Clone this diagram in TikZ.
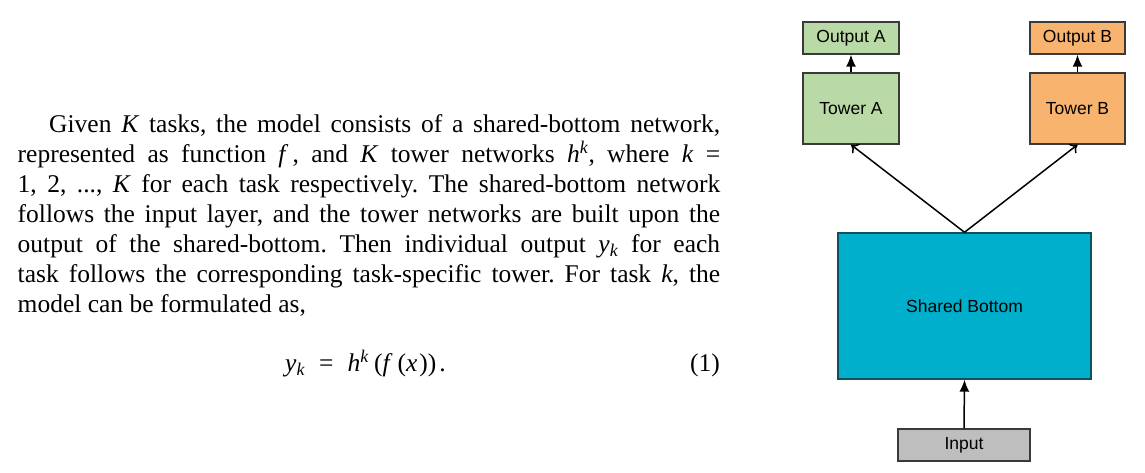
\documentclass[tikz,border=0pt]{standalone}
\usepackage{fontspec}
\setmainfont{Liberation Serif}
\newfontfamily\diagfont{Liberation Sans}
\usetikzlibrary{arrows.meta}
\definecolor{towerA}{HTML}{B9D9A6}
\definecolor{towerB}{HTML}{F8B36E}
\definecolor{shared}{HTML}{00AFCB}
\definecolor{inputc}{HTML}{BEBEBE}
\definecolor{boxline}{HTML}{3A3A3A}
\definecolor{sharedline}{HTML}{10505E}
\newcommand{\vi}[1]{\textit{#1}}
\begin{document}
\frenchspacing
\begin{tikzpicture}[x=1pt,y=-1pt,
  box/.style={draw=boxline,line width=1.4pt,inner sep=0pt,font=\diagfont\fontsize{17.5}{20}\selectfont},
  txt/.style={anchor=base west,inner sep=0pt,font=\fontsize{25.5}{30}\selectfont},
  solidarrow/.style={-{Latex[length=12pt,width=10pt]},line width=1.5pt},
  openarrow/.style={-{To[length=7pt,width=12pt]},line width=1.5pt}]
\useasboundingbox (0,0) rectangle (1145,472);
% text
\node[txt] (l1) at (49,132.5) {\makebox[671pt][s]{Given \vi{K} tasks, the model consists of a shared-bottom network,}};
\node[txt] (l2) at (17.5,162.5) {\makebox[702.5pt][s]{represented as function \vi{f}\,, and \vi{K} tower networks \vi{h}\textsuperscript{\vi{k}}, where \vi{k} =}};
\node[txt] (l3) at (17.5,192.5) {\makebox[702.5pt][s]{1, 2, ..., \vi{K} for each task respectively. The shared-bottom network}};
\node[txt] (l4) at (17.5,222.5) {\makebox[702.5pt][s]{follows the input layer, and the tower networks are built upon the}};
\node[txt] (l5) at (17.5,252.5) {\makebox[702.5pt][s]{output of the shared-bottom. Then individual output \vi{y}\textsubscript{\vi{k}} for each}};
\node[txt] (l6) at (17.5,282.5) {\makebox[702.5pt][s]{task follows the corresponding task-specific tower. For task \vi{k}, the}};
\node[txt] (l7) at (17.5,312.5) {model can be formulated as,};
\node[txt] (eq) at (285,371.7) {\vi{y}\textsubscript{\vi{k}}\hspace{14pt}=\hspace{14pt}\vi{h}\textsuperscript{\vi{k}}\hspace{5pt}(\vi{f}\hspace{5pt}(\vi{x}\hspace{2pt}))\hspace{3pt}.};
\node[txt,anchor=base east] (eqn) at (720,371.7) {(1)};
% diagram
\node[box,fill=towerA,minimum width=96pt,minimum height=32pt] (outA) at (851,38) {Output A};
\node[box,fill=towerA,minimum width=96pt,minimum height=71pt] (towA) at (851,108.5) {Tower A};
\node[box,fill=towerB,minimum width=95pt,minimum height=32pt] (outB) at (1077.5,38) {Output B};
\node[box,fill=towerB,minimum width=95pt,minimum height=71pt] (towB) at (1077.5,108.5) {Tower B};
\node[box,draw=sharedline,fill=shared,minimum width=253pt,minimum height=146pt] (sb) at (964.5,306) {Shared Bottom};
\node[box,fill=inputc,minimum width=132pt,minimum height=32pt] (inp) at (964,445) {Input};
\draw[solidarrow] (towA.north) -- (outA.south);
\draw[solidarrow] (towB.north) -- (outB.south);
\draw[openarrow] (sb.north) -- (towA.south);
\draw[openarrow] (sb.north) -- (towB.south);
\draw[solidarrow] (inp.north) -- (sb.south);
\end{tikzpicture}
\end{document}
